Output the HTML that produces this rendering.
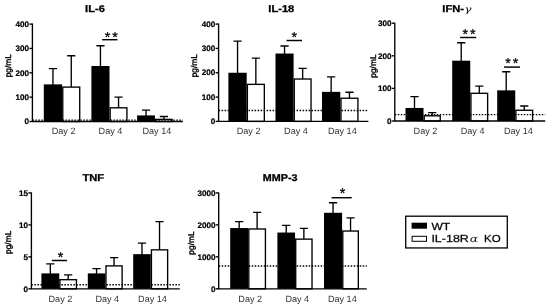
<!DOCTYPE html>
<html><head><meta charset="utf-8"><title>Cytokine levels</title>
<style>
html,body{margin:0;padding:0;background:#fff;}
body{width:550px;height:307px;overflow:hidden;font-family:"Liberation Sans",sans-serif;}
svg{display:block;filter:blur(0.35px);}
text{font-family:"Liberation Sans",sans-serif;fill:#000;text-rendering:geometricPrecision;}
.tk{font-size:8.1px;font-weight:bold;stroke:#000;stroke-width:0.2px;}
.tt{font-size:9.8px;font-weight:bold;stroke:#000;stroke-width:0.3px;}
.yl{font-size:8.4px;stroke:#000;stroke-width:0.4px;}
.xl{font-size:9.1px;fill:#333;}
.gm{font-family:"DejaVu Serif",serif;font-style:italic;font-weight:normal;font-size:8.6px;}
.st{font-size:14.3px;letter-spacing:1.9px;stroke:#000;stroke-width:0.25px;}
.lg{font-size:10.2px;stroke:#000;stroke-width:0.25px;}
.al{font-size:10px;font-family:"DejaVu Serif",serif;font-style:italic;fill:#222;}
</style></head><body>
<svg width="550" height="307" viewBox="0 0 550 307">
<rect width="550" height="307" fill="#fff"/>
<g><path d="M52.95 85.37V68.66M48.85 68.66H57.05" stroke="#000" stroke-width="1.35" fill="none"/>
<path d="M71.25 87.44V55.75M67.15 55.75H75.35" stroke="#000" stroke-width="1.35" fill="none"/>
<rect x="62.77" y="87.11" width="16.95" height="34.39" fill="#fff" stroke="#000" stroke-width="1.35"/>
<path d="M100.45 66.98V45.77M96.35 45.77H104.55" stroke="#000" stroke-width="1.35" fill="none"/>
<path d="M118.55 108.13V97.15M114.45 97.15H122.65" stroke="#000" stroke-width="1.35" fill="none"/>
<rect x="110.17" y="107.81" width="16.75" height="13.69" fill="#fff" stroke="#000" stroke-width="1.35"/>
<path d="M146.03 116.41V110.06M141.93 110.06H150.12" stroke="#000" stroke-width="1.35" fill="none"/>
<path d="M163.88 119.70V116.51M159.78 116.51H167.97" stroke="#000" stroke-width="1.35" fill="none"/>
<rect x="155.62" y="119.37" width="16.50" height="2.13" fill="#fff" stroke="#000" stroke-width="1.35"/>
<path d="M32.40 120.11H182.80" stroke="#000" stroke-width="1.35" stroke-dasharray="1.5 1.5" fill="none"/>
<rect x="43.80" y="84.37" width="18.30" height="37.13" fill="#000"/>
<rect x="91.40" y="65.98" width="18.10" height="55.52" fill="#000"/>
<rect x="137.10" y="115.41" width="17.85" height="6.09" fill="#000"/>
<path d="M32.40 23.60V122.10M31.80 121.50H182.80" stroke="#000" stroke-width="1.35" fill="none"/>
<path d="M29.40 121.50H32.40" stroke="#000" stroke-width="1.35"/>
<text x="29.10" y="124.20" text-anchor="end" class="tk">0</text>
<path d="M29.40 97.15H32.40" stroke="#000" stroke-width="1.35"/>
<text x="29.10" y="99.85" text-anchor="end" class="tk">100</text>
<path d="M29.40 72.80H32.40" stroke="#000" stroke-width="1.35"/>
<text x="29.10" y="75.50" text-anchor="end" class="tk">200</text>
<path d="M29.40 48.45H32.40" stroke="#000" stroke-width="1.35"/>
<text x="29.10" y="51.15" text-anchor="end" class="tk">300</text>
<path d="M29.40 24.10H32.40" stroke="#000" stroke-width="1.35"/>
<text x="29.10" y="26.80" text-anchor="end" class="tk">400</text>
<text transform="translate(95.00 11.70) scale(1.135 1)" text-anchor="middle" class="tt">IL-6</text>
<text transform="translate(11.40 65.70) rotate(-90)" text-anchor="middle" class="yl">pg/mL</text>
<text x="63.60" y="134.40" text-anchor="middle" class="xl">Day 2</text>
<text x="110.50" y="134.40" text-anchor="middle" class="xl">Day 4</text>
<text x="156.90" y="134.40" text-anchor="middle" class="xl">Day 14</text>
<path d="M102.10 39.70H117.40" stroke="#000" stroke-width="1.4500000000000002"/>
<text x="104.74" y="41.56" class="st">**</text></g>
<g><path d="M237.55 73.75V41.13M233.45 41.13H241.65" stroke="#000" stroke-width="1.35" fill="none"/>
<path d="M255.85 84.70V58.16M251.75 58.16H259.95" stroke="#000" stroke-width="1.35" fill="none"/>
<rect x="247.38" y="84.37" width="16.95" height="37.03" fill="#fff" stroke="#000" stroke-width="1.35"/>
<path d="M284.55 54.53V45.99M280.45 45.99H288.65" stroke="#000" stroke-width="1.35" fill="none"/>
<path d="M302.65 79.34V68.37M298.55 68.37H306.75" stroke="#000" stroke-width="1.35" fill="none"/>
<rect x="294.28" y="79.02" width="16.75" height="42.38" fill="#fff" stroke="#000" stroke-width="1.35"/>
<path d="M331.15 92.85V76.89M327.05 76.89H335.25" stroke="#000" stroke-width="1.35" fill="none"/>
<path d="M349.45 98.56V92.21M345.35 92.21H353.55" stroke="#000" stroke-width="1.35" fill="none"/>
<rect x="340.98" y="98.24" width="16.95" height="23.16" fill="#fff" stroke="#000" stroke-width="1.35"/>
<path d="M218.60 110.45H368.40" stroke="#000" stroke-width="1.35" stroke-dasharray="1.5 1.5" fill="none"/>
<rect x="228.40" y="72.75" width="18.30" height="48.65" fill="#000"/>
<rect x="275.50" y="53.53" width="18.10" height="67.87" fill="#000"/>
<rect x="322.00" y="91.85" width="18.30" height="29.55" fill="#000"/>
<path d="M218.60 23.60V122.00M218.00 121.40H368.40" stroke="#000" stroke-width="1.35" fill="none"/>
<path d="M215.60 121.40H218.60" stroke="#000" stroke-width="1.35"/>
<text x="215.30" y="124.10" text-anchor="end" class="tk">0</text>
<path d="M215.60 97.08H218.60" stroke="#000" stroke-width="1.35"/>
<text x="215.30" y="99.78" text-anchor="end" class="tk">100</text>
<path d="M215.60 72.75H218.60" stroke="#000" stroke-width="1.35"/>
<text x="215.30" y="75.45" text-anchor="end" class="tk">200</text>
<path d="M215.60 48.42H218.60" stroke="#000" stroke-width="1.35"/>
<text x="215.30" y="51.12" text-anchor="end" class="tk">300</text>
<path d="M215.60 24.10H218.60" stroke="#000" stroke-width="1.35"/>
<text x="215.30" y="26.80" text-anchor="end" class="tk">400</text>
<text transform="translate(281.30 11.70) scale(1.135 1)" text-anchor="middle" class="tt">IL-18</text>
<text transform="translate(196.90 65.70) rotate(-90)" text-anchor="middle" class="yl">pg/mL</text>
<text x="248.60" y="134.40" text-anchor="middle" class="xl">Day 2</text>
<text x="296.00" y="134.40" text-anchor="middle" class="xl">Day 4</text>
<text x="342.30" y="134.40" text-anchor="middle" class="xl">Day 14</text>
<path d="M286.50 40.50H302.00" stroke="#000" stroke-width="1.4500000000000002"/>
<text x="291.54" y="42.16" class="st">*</text></g>
<g><path d="M414.50 108.96V96.55M410.40 96.55H418.60" stroke="#000" stroke-width="1.35" fill="none"/>
<path d="M432.20 116.13V112.69M428.10 112.69H436.30" stroke="#000" stroke-width="1.35" fill="none"/>
<rect x="424.18" y="115.81" width="16.05" height="5.19" fill="#fff" stroke="#000" stroke-width="1.35"/>
<path d="M461.22 61.69V42.76M457.12 42.76H465.32" stroke="#000" stroke-width="1.35" fill="none"/>
<path d="M479.27 93.64V86.12M475.17 86.12H483.38" stroke="#000" stroke-width="1.35" fill="none"/>
<rect x="470.93" y="93.31" width="16.70" height="27.69" fill="#fff" stroke="#000" stroke-width="1.35"/>
<path d="M506.22 91.36V71.77M502.12 71.77H510.32" stroke="#000" stroke-width="1.35" fill="none"/>
<path d="M524.27 110.59V106.00M520.17 106.00H528.38" stroke="#000" stroke-width="1.35" fill="none"/>
<rect x="515.92" y="110.27" width="16.70" height="10.73" fill="#fff" stroke="#000" stroke-width="1.35"/>
<path d="M394.80 114.64H545.20" stroke="#000" stroke-width="1.35" stroke-dasharray="1.5 1.5" fill="none"/>
<rect x="405.50" y="107.96" width="18.00" height="13.04" fill="#000"/>
<rect x="452.20" y="60.69" width="18.05" height="60.31" fill="#000"/>
<rect x="497.20" y="90.36" width="18.05" height="30.64" fill="#000"/>
<path d="M394.80 22.70V121.60M394.20 121.00H545.20" stroke="#000" stroke-width="1.35" fill="none"/>
<path d="M391.80 121.00H394.80" stroke="#000" stroke-width="1.35"/>
<text x="391.50" y="123.70" text-anchor="end" class="tk">0</text>
<path d="M391.80 88.40H394.80" stroke="#000" stroke-width="1.35"/>
<text x="391.50" y="91.10" text-anchor="end" class="tk">100</text>
<path d="M391.80 55.80H394.80" stroke="#000" stroke-width="1.35"/>
<text x="391.50" y="58.50" text-anchor="end" class="tk">200</text>
<path d="M391.80 23.20H394.80" stroke="#000" stroke-width="1.35"/>
<text x="391.50" y="25.90" text-anchor="end" class="tk">300</text>
<text transform="translate(453.10 12.00) scale(1.135 1)" text-anchor="middle" class="tt">IFN-</text>
<text transform="translate(464.6 12.0) scale(1.35 1)" class="gm">γ</text>
<text transform="translate(375.60 66.10) rotate(-90)" text-anchor="middle" class="yl">pg/mL</text>
<text x="425.50" y="134.20" text-anchor="middle" class="xl">Day 2</text>
<text x="472.60" y="134.20" text-anchor="middle" class="xl">Day 4</text>
<text x="518.40" y="134.20" text-anchor="middle" class="xl">Day 14</text>
<path d="M460.10 37.50H476.20" stroke="#000" stroke-width="1.4500000000000002"/>
<text x="462.44" y="38.96" class="st">**</text>
<path d="M504.00 67.10H520.00" stroke="#000" stroke-width="1.4500000000000002"/>
<text x="505.24" y="67.76" class="st">**</text></g>
<g><path d="M50.33 274.39V263.93M46.23 263.93H54.43" stroke="#000" stroke-width="1.35" fill="none"/>
<path d="M68.17 280.02V274.86M64.08 274.86H72.27" stroke="#000" stroke-width="1.35" fill="none"/>
<rect x="59.92" y="279.69" width="16.50" height="9.11" fill="#fff" stroke="#000" stroke-width="1.35"/>
<path d="M96.55 274.39V268.66M92.45 268.66H100.65" stroke="#000" stroke-width="1.35" fill="none"/>
<path d="M114.05 266.22V257.61M109.95 257.61H118.15" stroke="#000" stroke-width="1.35" fill="none"/>
<rect x="105.97" y="265.90" width="16.15" height="22.90" fill="#fff" stroke="#000" stroke-width="1.35"/>
<path d="M141.97 255.15V243.09M137.88 243.09H146.07" stroke="#000" stroke-width="1.35" fill="none"/>
<path d="M159.53 250.16V221.67M155.43 221.67H163.62" stroke="#000" stroke-width="1.35" fill="none"/>
<rect x="151.43" y="249.84" width="16.20" height="38.96" fill="#fff" stroke="#000" stroke-width="1.35"/>
<path d="M31.40 284.77H179.80" stroke="#000" stroke-width="1.35" stroke-dasharray="1.5 1.5" fill="none"/>
<rect x="41.40" y="273.39" width="17.85" height="15.41" fill="#000"/>
<rect x="87.80" y="273.39" width="17.50" height="15.41" fill="#000"/>
<rect x="133.20" y="254.15" width="17.55" height="34.65" fill="#000"/>
<path d="M31.40 192.40V289.40M30.80 288.80H179.80" stroke="#000" stroke-width="1.35" fill="none"/>
<path d="M28.40 288.80H31.40" stroke="#000" stroke-width="1.35"/>
<text x="28.10" y="291.50" text-anchor="end" class="tk">0</text>
<path d="M28.40 256.83H31.40" stroke="#000" stroke-width="1.35"/>
<text x="28.10" y="259.53" text-anchor="end" class="tk">5</text>
<path d="M28.40 224.87H31.40" stroke="#000" stroke-width="1.35"/>
<text x="28.10" y="227.57" text-anchor="end" class="tk">10</text>
<path d="M28.40 192.90H31.40" stroke="#000" stroke-width="1.35"/>
<text x="28.10" y="195.60" text-anchor="end" class="tk">15</text>
<text transform="translate(93.30 181.00) scale(1.135 1)" text-anchor="middle" class="tt">TNF</text>
<text transform="translate(11.00 242.30) rotate(-90)" text-anchor="middle" class="yl">pg/mL</text>
<text x="60.40" y="301.70" text-anchor="middle" class="xl">Day 2</text>
<text x="107.30" y="301.70" text-anchor="middle" class="xl">Day 4</text>
<text x="152.50" y="301.70" text-anchor="middle" class="xl">Day 14</text>
<path d="M51.80 260.50H67.10" stroke="#000" stroke-width="1.4500000000000002"/>
<text x="57.84" y="261.66" class="st">*</text></g>
<g><path d="M239.17 229.06V221.67M235.07 221.67H243.27" stroke="#000" stroke-width="1.35" fill="none"/>
<path d="M257.12 229.32V212.40M253.03 212.40H261.23" stroke="#000" stroke-width="1.35" fill="none"/>
<rect x="248.82" y="228.99" width="16.60" height="59.81" fill="#fff" stroke="#000" stroke-width="1.35"/>
<path d="M286.22 233.54V225.35M282.12 225.35H290.32" stroke="#000" stroke-width="1.35" fill="none"/>
<path d="M303.87 239.45V228.38M299.77 228.38H307.97" stroke="#000" stroke-width="1.35" fill="none"/>
<rect x="295.72" y="239.13" width="16.30" height="49.67" fill="#fff" stroke="#000" stroke-width="1.35"/>
<path d="M333.05 213.78V202.75M328.95 202.75H337.15" stroke="#000" stroke-width="1.35" fill="none"/>
<path d="M350.55 231.36V217.83M346.45 217.83H354.65" stroke="#000" stroke-width="1.35" fill="none"/>
<rect x="342.78" y="231.04" width="15.55" height="57.76" fill="#fff" stroke="#000" stroke-width="1.35"/>
<path d="M218.70 266.01H366.80" stroke="#000" stroke-width="1.35" stroke-dasharray="1.5 1.5" fill="none"/>
<rect x="230.20" y="228.06" width="17.95" height="60.74" fill="#000"/>
<rect x="277.40" y="232.54" width="17.65" height="56.26" fill="#000"/>
<rect x="324.00" y="212.78" width="18.10" height="76.02" fill="#000"/>
<path d="M218.70 192.40V289.40M218.10 288.80H366.80" stroke="#000" stroke-width="1.35" fill="none"/>
<path d="M215.70 288.80H218.70" stroke="#000" stroke-width="1.35"/>
<text x="215.40" y="291.50" text-anchor="end" class="tk">0</text>
<path d="M215.70 256.83H218.70" stroke="#000" stroke-width="1.35"/>
<text x="215.40" y="259.53" text-anchor="end" class="tk">1000</text>
<path d="M215.70 224.87H218.70" stroke="#000" stroke-width="1.35"/>
<text x="215.40" y="227.57" text-anchor="end" class="tk">2000</text>
<path d="M215.70 192.90H218.70" stroke="#000" stroke-width="1.35"/>
<text x="215.40" y="195.60" text-anchor="end" class="tk">3000</text>
<text transform="translate(280.20 181.00) scale(1.1 1)" text-anchor="middle" class="tt">MMP-3</text>
<text transform="translate(193.80 243.00) rotate(-90)" text-anchor="middle" class="yl">pg/mL</text>
<text x="250.20" y="301.70" text-anchor="middle" class="xl">Day 2</text>
<text x="297.30" y="301.70" text-anchor="middle" class="xl">Day 4</text>
<text x="342.30" y="301.70" text-anchor="middle" class="xl">Day 14</text>
<path d="M331.60 197.70H351.75" stroke="#000" stroke-width="1.4500000000000002"/>
<text x="339.74" y="198.16" class="st">*</text></g>
<g>
<rect x="405.7" y="216.2" width="101.6" height="31.75" fill="#fff" stroke="#000" stroke-width="1.3"/>
<rect x="411.6" y="222.7" width="15.4" height="6.0" fill="#000"/>
<rect x="412.1" y="236.3" width="14.4" height="5.0" fill="#fff" stroke="#000" stroke-width="1"/>
<text transform="translate(431.4 229.9) scale(1.18 1)" class="lg">WT</text>
<text transform="translate(431.4 241.9) scale(1.225 1)" class="lg">IL-18R</text>
<text transform="translate(469.7 241.9) scale(1.25 1)" class="al">α</text>
<text transform="translate(484.0 241.9) scale(1.13 1)" class="lg">KO</text>
</g>
</svg>
</body></html>
